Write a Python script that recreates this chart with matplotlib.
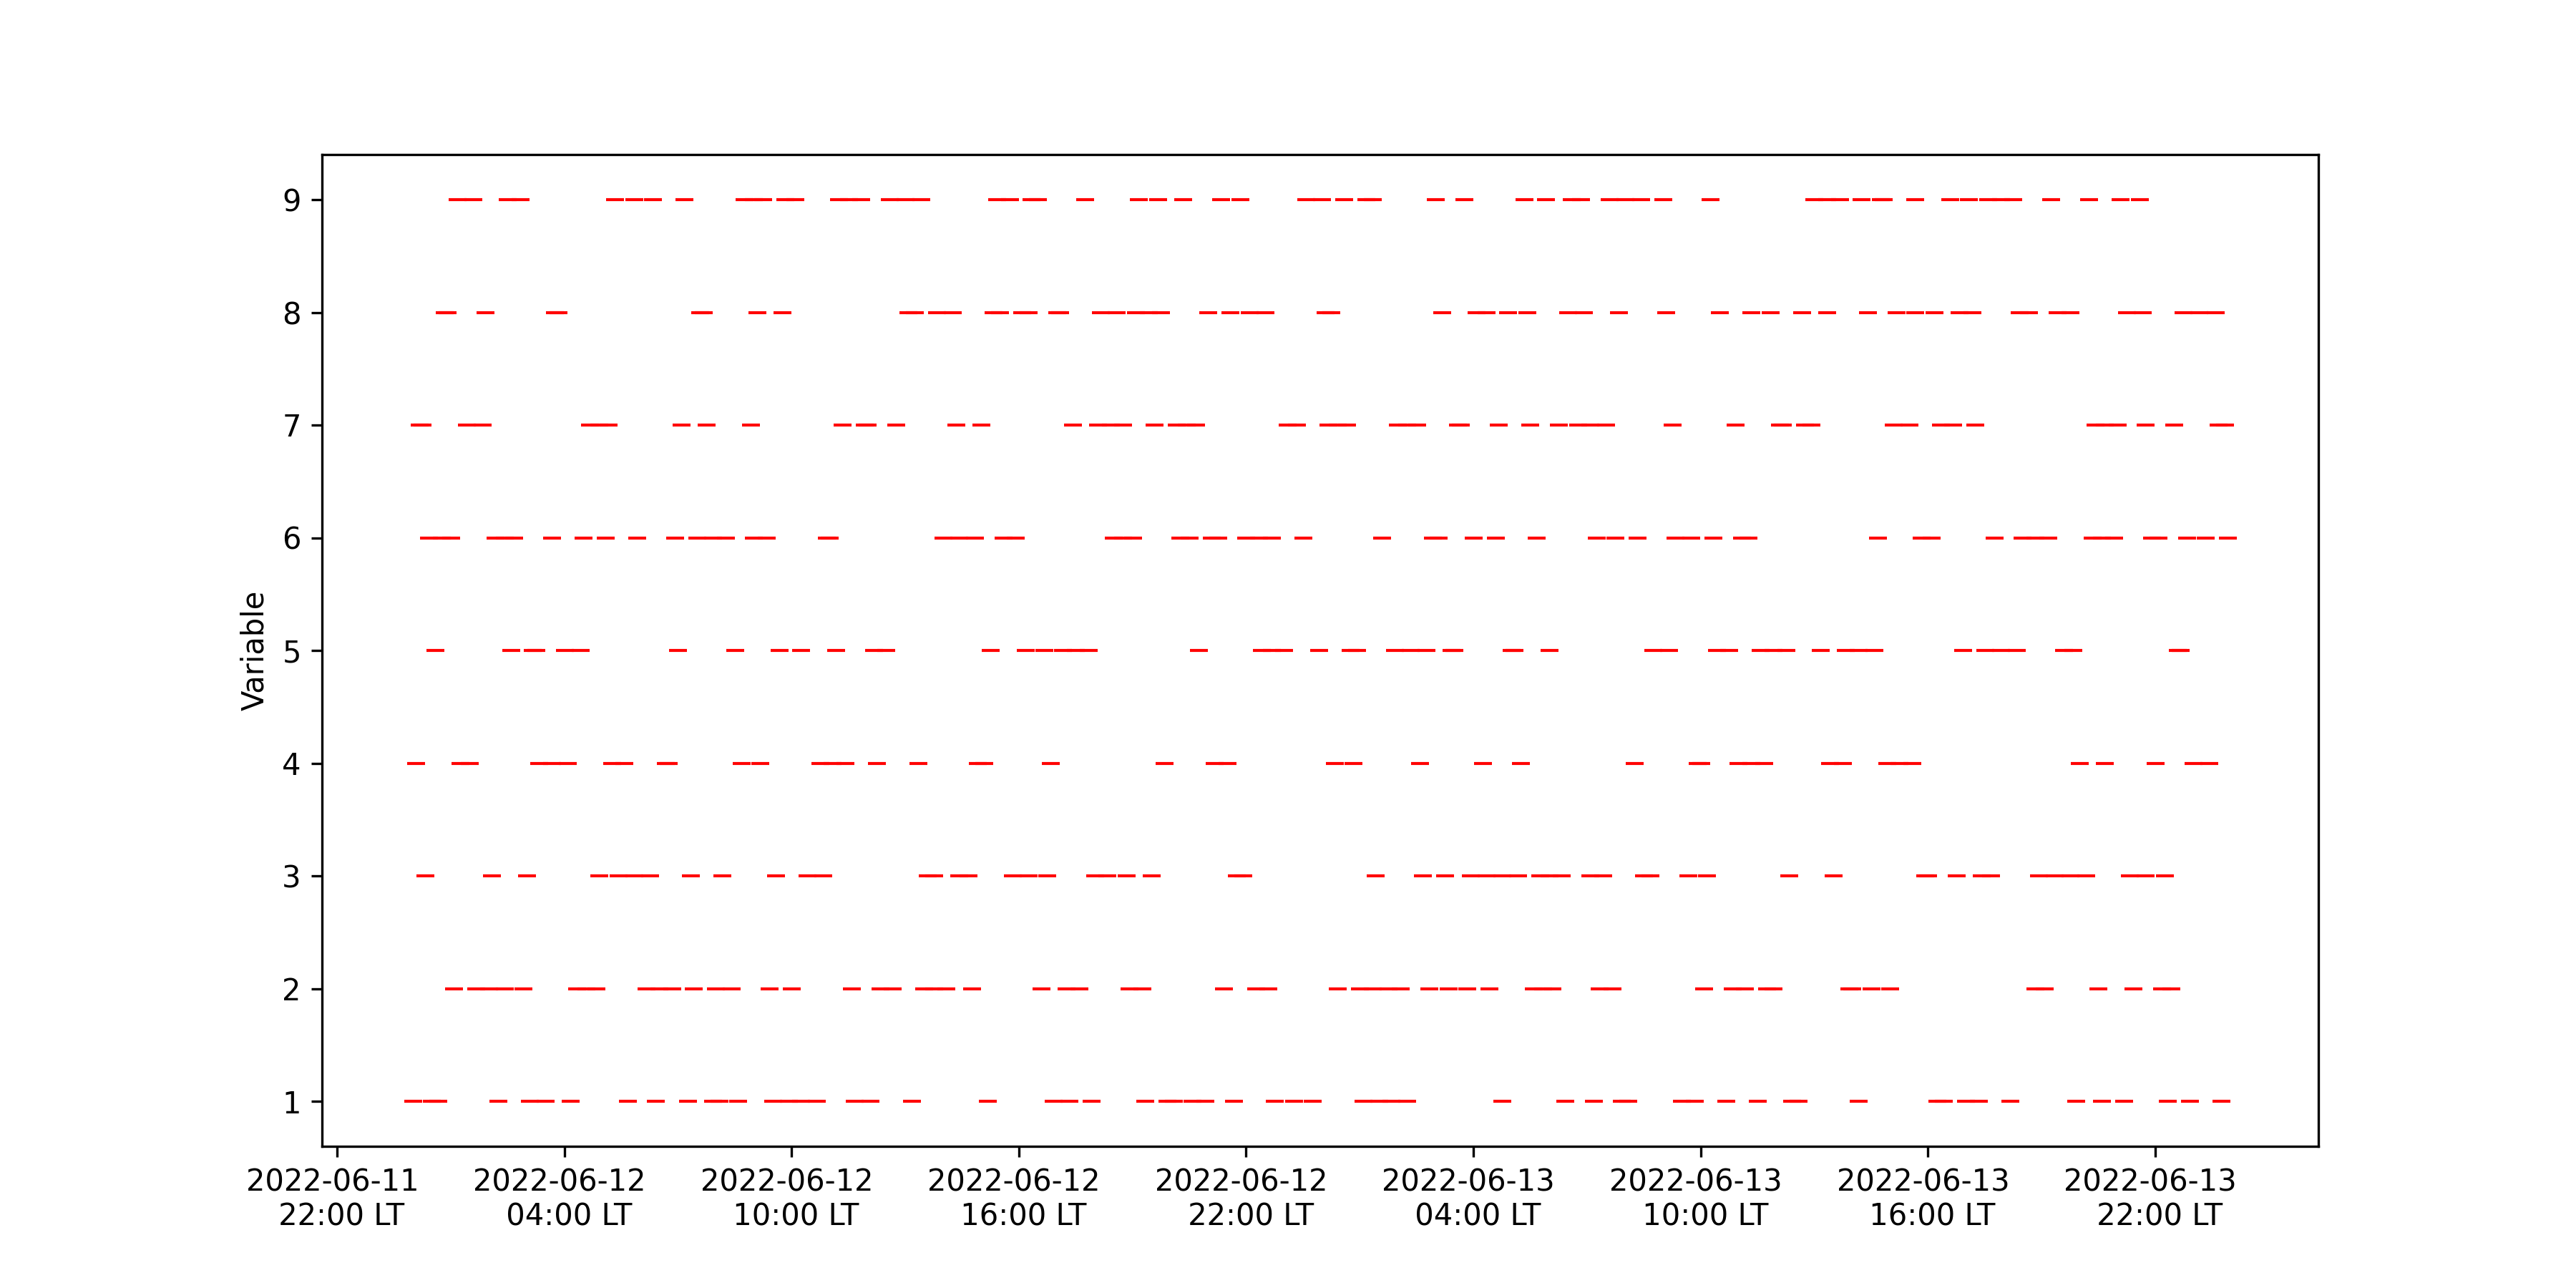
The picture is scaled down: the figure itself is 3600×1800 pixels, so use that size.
import pandas as pd
import matplotlib
matplotlib.use("Agg")
import matplotlib.pyplot as plt
import matplotlib.dates as mdates

# Poczatek pomiarow (czas lokalny)
start = pd.Timestamp("2022-06-12 00:00")

# Minuty od poczatku, w ktorych zmienna ma pomiar
var1 = [0, 30, 40, 135, 185, 210, 250, 340, 385, 435, 475, 485, 515, 570, 595, 615, 640,
        700, 725, 790, 910, 1015, 1040, 1075, 1160, 1195, 1205, 1235, 1255, 1300, 1365,
        1395, 1425, 1505, 1530, 1550, 1575, 1725, 1825, 1870, 1915, 1925, 2010, 2030,
        2080, 2130, 2185, 2195, 2290, 2415, 2425, 2460, 2480, 2530, 2635, 2675, 2710,
        2780, 2815, 2865]
var2 = [65, 100, 120, 145, 175, 260, 275, 290, 370, 390, 410, 445, 480, 505, 565, 600,
        695, 740, 760, 810, 825, 845, 885, 995, 1035, 1055, 1135, 1155, 1285, 1335, 1355,
        1465, 1500, 1520, 1545, 1565, 1610, 1640, 1670, 1705, 1775, 1790, 1805, 1880,
        1900, 2045, 2090, 2110, 2145, 2155, 2275, 2280, 2310, 2340, 2570, 2585, 2670,
        2725, 2770, 2785]
var3 = [20, 125, 180, 295, 325, 350, 375, 440, 490, 575, 625, 650, 815, 825, 865, 880,
        950, 975, 1005, 1080, 1100, 1130, 1170, 1305, 1315, 1525, 1600, 1635, 1675, 1700,
        1725, 1750, 1785, 1800, 1820, 1865, 1885, 1950, 1960, 2020, 2050, 2180, 2250,
        2395, 2400, 2445, 2485, 2500, 2575, 2600, 2625, 2650, 2720, 2745, 2775]
var4 = [5, 75, 90, 200, 220, 245, 315, 335, 400, 405, 520, 550, 645, 665, 685, 735, 800,
        895, 905, 1010, 1190, 1270, 1290, 1460, 1490, 1595, 1695, 1755, 1935, 2035, 2040,
        2100, 2120, 2140, 2245, 2265, 2335, 2355, 2375, 2640, 2680, 2760, 2820, 2845]
var5 = [35, 155, 190, 195, 240, 265, 420, 510, 580, 615, 670, 730, 750, 915, 970, 1000,
        1030, 1050, 1070, 1245, 1345, 1360, 1380, 1435, 1485, 1495, 1555, 1580, 1605,
        1645, 1650, 1740, 1745, 1800, 1965, 1990, 2065, 2085, 2135, 2155, 2175, 2230,
        2270, 2290, 2315, 2455, 2490, 2515, 2540, 2615, 2630, 2795, 2800]
var6 = [25, 45, 60, 130, 145, 160, 220, 270, 305, 355, 415, 450, 475, 495, 540, 560, 655,
        660, 840, 865, 890, 935, 955, 1110, 1125, 1140, 1215, 1230, 1265, 1275, 1320, 1340,
        1360, 1410, 1535, 1615, 1625, 1680, 1715, 1780, 1875, 1905, 1940, 2000, 2025, 2060,
        2105, 2115, 2320, 2390, 2405, 2505, 2550, 2570, 2590, 2660, 2675, 2695, 2755, 2765,
        2810, 2840, 2875]
var7 = [10, 15, 85, 110, 280, 295, 310, 425, 465, 535, 680, 715, 720, 765, 860, 900, 1045,
        1085, 1105, 1125, 1175, 1210, 1225, 1240, 1385, 1400, 1450, 1465, 1480, 1560, 1575,
        1590, 1655, 1660, 1720, 1770, 1815, 1845, 1865, 1890, 1995, 2095, 2165, 2170, 2205,
        2215, 2345, 2370, 2420, 2440, 2475, 2665, 2680, 2700, 2745, 2790, 2860, 2870]
var8 = [50, 55, 115, 225, 230, 455, 460, 545, 585, 785, 795, 830, 855, 920, 930, 965, 975,
        1020, 1025, 1090, 1115, 1145, 1165, 1185, 1260, 1295, 1325, 1350, 1445, 1455, 1630,
        1685, 1700, 1735, 1765, 1830, 1855, 1910, 1985, 2070, 2120, 2150, 2200, 2240, 2305,
        2350, 2380, 2410, 2450, 2470, 2545, 2560, 2605, 2625, 2715, 2740, 2805, 2830, 2855]
var9 = [70, 95, 150, 170, 320, 350, 380, 430, 525, 540, 555, 590, 605, 675, 690, 710, 755,
        780, 805, 925, 945, 980, 990, 1065, 1150, 1180, 1220, 1280, 1310, 1415, 1440, 1475,
        1510, 1520, 1620, 1665, 1760, 1795, 1835, 1850, 1895, 1920, 1945, 1980, 2055, 2220,
        2240, 2260, 2295, 2325, 2330, 2380, 2435, 2465, 2495, 2515, 2535, 2595, 2655, 2705,
        2735]

zmienne = [var1, var2, var3, var4, var5, var6, var7, var8, var9]

fig, ax = plt.subplots(figsize=(12, 6), dpi=300)

# Kazda zmienna rysowana jako kreski na swojej wysokosci
for nr, minuty in enumerate(zmienne, start=1):
    czasy = start + pd.to_timedelta(minuty, unit="m")
    ax.plot(czasy, [nr] * len(czasy), "_", color="red")

ax.set_ylabel("Variable")
ax.set_yticks(range(1, 10))
ax.xaxis.set_major_locator(mdates.HourLocator(byhour=[4, 10, 16, 22]))
ax.xaxis.set_major_formatter(mdates.DateFormatter("%Y-%m-%d \n %H:%M LT"))

fig.savefig("out.png")
